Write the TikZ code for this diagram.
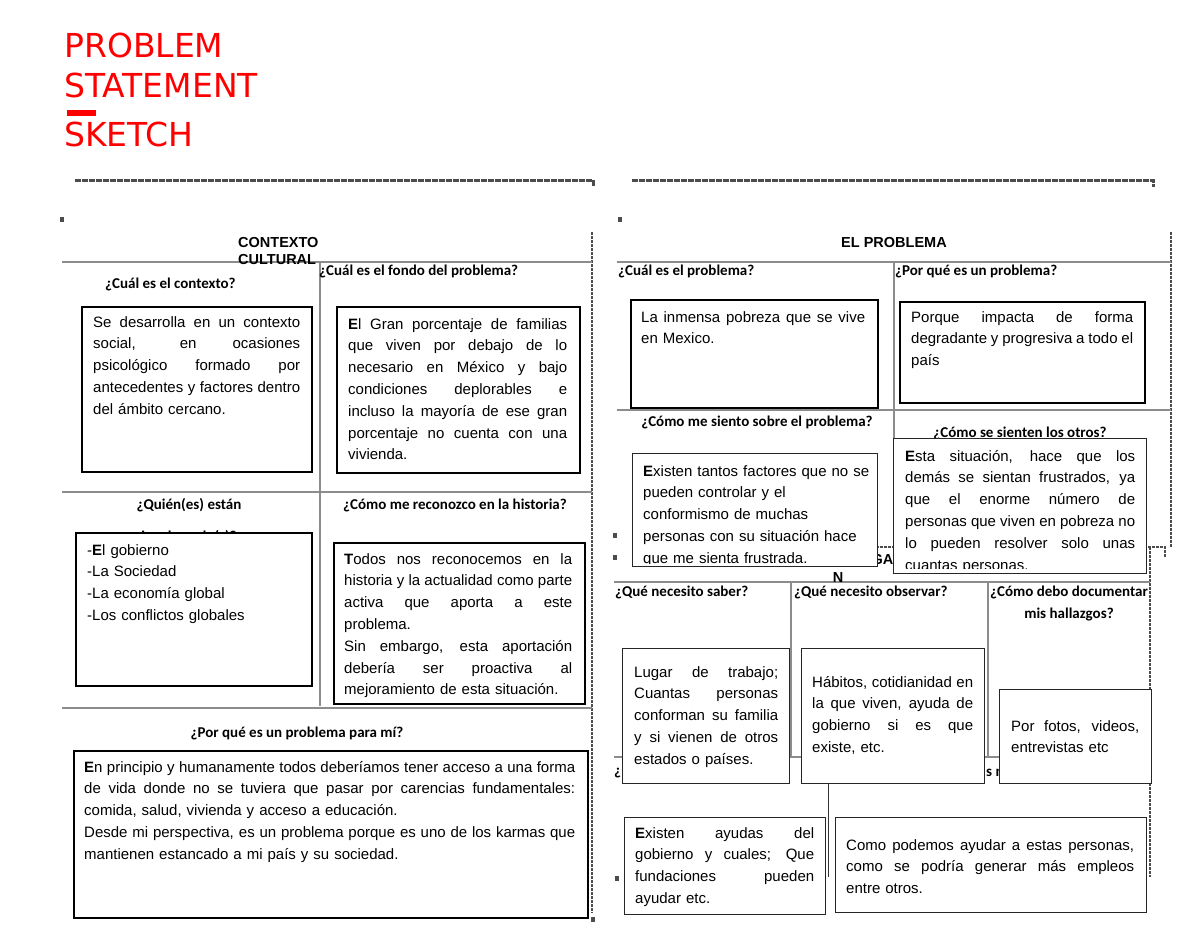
\documentclass[tikz,border=0pt]{standalone}
\usepackage{fontspec}
\setmainfont{Liberation Sans}
\newfontfamily\hdfont{Carlito}
\newfontfamily\ttlfont{DejaVu Sans}
\newdimen\jwd
\newcommand\jl[1]{\leavevmode\hbox to \jwd{\spaceskip=0.278em plus 1fil minus 0.08em\relax\xspaceskip=\spaceskip\strut #1}}
\newcommand\rl[1]{\leavevmode\strut #1}
\tikzset{
  sep/.style={draw=black!45, line width=1.1pt},
  frame/.style={draw=black!70, line width=2.6pt, dash pattern=on 3pt off 1pt},
  topframe/.style={draw=black!70, line width=3pt, dash pattern=on 6pt off 1pt},
  boxA/.style={draw=black, line width=2pt, fill=white, inner sep=0, anchor=north west},
  boxB/.style={draw=black!85, line width=1.2pt, fill=white, inner sep=0, anchor=north west},
  jwset/.code={\global\jwd=#1\relax},
  body/.style={inner sep=0, anchor=north west, align=left, text width=#1, jwset=#1, font=\fontsize{15}{21.8}\selectfont},
  qhead/.style={inner sep=0, font=\hdfont\bfseries\fontsize{15}{22}\selectfont},
  sect/.style={inner sep=0, font=\bfseries\fontsize{14.5}{17}\selectfont},
  ttl/.style={inner sep=0, anchor=base west, text=red, font=\ttlfont\fontsize{33}{40}\selectfont},
  mk/.style={fill=black!70, inner sep=0, minimum width=4.5pt, minimum height=5pt},
  link/.style={draw=black!80, line width=1pt},
}
\begin{document}
\begin{tikzpicture}[x=1pt,y=-1pt]
\useasboundingbox (0,0) rectangle (1200,927);
\fill[white] (0,0) rectangle (1200,927);

% ---------- title ----------
\node[ttl] (t1) at (64,57) {PROBLEM};
\node[ttl] (t2) at (64,97) {STATEMENT};
\node[fill=red, inner sep=0, minimum width=29pt, minimum height=6pt, anchor=north west] (bar) at (67,110) {};
\node[ttl] (t3) at (64,146) {SKETCH};

% ---------- frames ----------
\draw[topframe] (75,180) -- (593,180) -- (593,187);
\draw[topframe] (632,180) -- (1153,180) -- (1153,187);
\draw[frame] (592,232) -- (592,913);
\draw[frame] (1171,232) -- (1171,548);
\draw[frame] (640,547) -- (1165,547) -- (1165,557);
\draw[frame] (1150,547) -- (1150,877);

\node[mk] (m1) at (62,219) {};
\node[mk] (m2) at (620,219) {};
\node[mk] (m3) at (615,535) {};
\node[mk] (m4) at (615,557) {};
\node[mk] (m5) at (617,878) {};
\node[mk] (m6) at (593,919) {};

% ---------- separators ----------
\draw[sep] (62,262) -- (592,262);
\draw[sep] (62,492) -- (592,492);
\draw[sep] (62,708) -- (592,708);
\draw[sep] (320,262) -- (320,706);
\draw[sep] (617,262) -- (1171,262);
\draw[sep] (617,410) -- (1171,410);
\draw[sep] (894,262) -- (894,440);
\draw[sep] (614,582) -- (1150,582);
\draw[sep] (614,757) -- (1150,757);
\draw[sep] (791,582) -- (791,757);
\draw[sep] (988,582) -- (988,757);

% ---------- section titles ----------
\node[sect, anchor=north west, align=left] (s1) at (238,235.1) {\strut CONTEXTO\\\strut CULTURAL};
\node[sect, anchor=base west] (s2) at (841,247) {EL PROBLEMA};
\node[sect, anchor=base west] (s3) at (815,564) {INVESTIGACIÓ};
\node[sect, anchor=base] (s4) at (838,582) {N};

% ---------- question headings ----------
\node[qhead, anchor=base west] (h1) at (105,288) {¿Cuál es el contexto?};
\node[qhead, anchor=base west] (h2) at (319,275) {¿Cuál es el fondo del problema?};
\node[qhead, anchor=north, align=center, font=\hdfont\bfseries\fontsize{15}{32}\selectfont] (h3) at (189,486.6) {\strut ¿Quién(es) están\\\strut involucrado(s)?};
\node[qhead, anchor=base] (h4) at (455,509) {¿Cómo me reconozco en la historia?};
\node[qhead, anchor=base] (h5) at (297,737) {¿Por qué es un problema para mí?};
\node[qhead, anchor=base west] (h6) at (618,275) {¿Cuál es el problema?};
\node[qhead, anchor=base west] (h7) at (895,275) {¿Por qué es un problema?};
\node[qhead, anchor=base] (h8) at (757,426) {¿Cómo me siento sobre el problema?};
\node[qhead, anchor=base] (h9) at (1020,437) {¿Cómo se sienten los otros?};
\node[qhead, anchor=base west] (h10) at (615,596) {¿Qué necesito saber?};
\node[qhead, anchor=base west] (h11) at (794,596) {¿Qué necesito observar?};
\node[qhead, anchor=north, align=center] (h12) at (1069,580.6) {\strut ¿Cómo debo documentar\\\strut mis hallazgos?};
\node[qhead, anchor=base west] (h13) at (614,775) {¿};
\node[qhead, anchor=base west] (h14) at (986,776) {s n};

% ---------- panel 1 boxes ----------
\node[boxA, minimum width=230pt, minimum height=165pt] (b1) at (81,306) {};
\node[body=207pt] (x1) at (93,311.7) {\jl{Se desarrolla en un contexto}\\\jl{social, en ocasiones}\\\jl{psicológico formado por}\\\jl{antecedentes y factores dentro}\\\rl{del ámbito cercano.}};

\node[boxA, minimum width=243pt, minimum height=166pt] (b2) at (336,306) {};
\node[body=219pt] (x2) at (348,313.7) {\jl{\textbf{E}l Gran porcentaje de familias}\\\jl{que viven por debajo de lo}\\\jl{necesario en México y bajo}\\\jl{condiciones deplorables e}\\\jl{incluso la mayoría de ese gran}\\\jl{porcentaje no cuenta con una}\\\rl{vivienda.}};

\node[boxA, minimum width=236pt, minimum height=153pt] (b3) at (75,532) {};
\node[body=200pt] (x3) at (87,539.7) {\rl{-\textbf{E}l gobierno}\\\rl{-La Sociedad}\\\rl{-La economía global}\\\rl{-Los conflictos globales}};

\node[boxA, minimum width=251pt, minimum height=161pt] (b4) at (333,542) {};
\node[body=228pt] (x4) at (344,548.7) {\jl{\textbf{T}odos nos reconocemos en la}\\\jl{historia y la actualidad como parte}\\\jl{activa que aporta a este}\\\rl{problema.}\\\jl{Sin embargo, esta aportación}\\\jl{debería ser proactiva al}\\\rl{mejoramiento de esta situación.}};

\node[boxA, minimum width=514pt, minimum height=167pt] (b5) at (73,750) {};
\node[body=491pt] (x5) at (84,756.7) {\jl{\textbf{E}n principio y humanamente todos deberíamos tener acceso a una forma}\\\jl{de vida donde no se tuviera que pasar por carencias fundamentales:}\\\rl{comida, salud, vivienda y acceso a educación.}\\\jl{Desde mi perspectiva, es un problema porque es uno de los karmas que}\\\rl{mantienen estancado a mi país y su sociedad.}};

% ---------- panel 2 boxes ----------
\node[boxA, minimum width=247pt, minimum height=108pt] (b6) at (630,299) {};
\node[body=224pt] (x6) at (641,306.7) {\jl{La inmensa pobreza que se vive}\\\rl{en Mexico.}};

\node[boxA, minimum width=245pt, minimum height=101pt] (b7) at (899,301) {};
\node[body=222pt] (x7) at (911,306.7) {\jl{Porque impacta de forma}\\\jl{degradante y progresiva a todo el}\\\rl{país}};

\node[boxB, minimum width=245pt, minimum height=113pt] (b8) at (632,453) {};
\begin{scope}
\clip (632,453) rectangle (877,563);
\node[body=230pt] (x8) at (643,460.7) {\rl{\textbf{E}xisten tantos factores que no se}\\\rl{pueden controlar y el}\\\rl{conformismo de muchas}\\\rl{personas con su situación hace}\\\rl{que me sienta frustrada.}};
\end{scope}

\node[boxB, minimum width=253pt, minimum height=135pt] (b9) at (893,438) {};
\begin{scope}
\clip (893,438) rectangle (1146,568);
\node[body=230pt] (x9) at (905,445.7) {\jl{\textbf{E}sta situación, hace que los}\\\jl{demás se sientan frustrados, ya}\\\jl{que el enorme número de}\\\jl{personas que viven en pobreza no}\\\jl{lo pueden resolver solo unas}\\\rl{cuantas personas.}};
\end{scope}

% ---------- panel 3 boxes ----------
\node[boxB, minimum width=167pt, minimum height=135pt] (b10) at (622,648) {};
\node[body=144pt] (x10) at (634,661.7) {\jl{Lugar de trabajo;}\\\jl{Cuantas personas}\\\jl{conforman su familia}\\\jl{y si vienen de otros}\\\rl{estados o países.}};

\node[boxB, minimum width=183pt, minimum height=135pt] (b11) at (801,648) {};
\node[body=161pt] (x11) at (812,671.7) {\jl{Hábitos, cotidianidad en}\\\jl{la que viven, ayuda de}\\\jl{gobierno si es que}\\\rl{existe, etc.}};

\node[boxB, minimum width=152pt, minimum height=94pt] (b12) at (999,689) {};
\node[body=128pt] (x12) at (1011,715.7) {\jl{Por fotos, videos,}\\\rl{entrevistas etc}};

\coordinate (lend) at (828,877);
\draw[link] (b11.south -| lend) -- (lend);

\node[boxB, minimum width=201pt, minimum height=97pt] (b13) at (624,817) {};
\node[body=179pt] (x13) at (635,822.7) {\jl{\textbf{E}xisten ayudas del}\\\jl{gobierno y cuales; Que}\\\jl{fundaciones pueden}\\\rl{ayudar etc.}};

\node[boxB, minimum width=311pt, minimum height=95pt] (b14) at (835,817) {};
\node[body=288pt] (x14) at (846,834.7) {\jl{Como podemos ayudar a estas personas,}\\\jl{como se podría generar más empleos}\\\rl{entre otros.}};

\end{tikzpicture}
\end{document}
